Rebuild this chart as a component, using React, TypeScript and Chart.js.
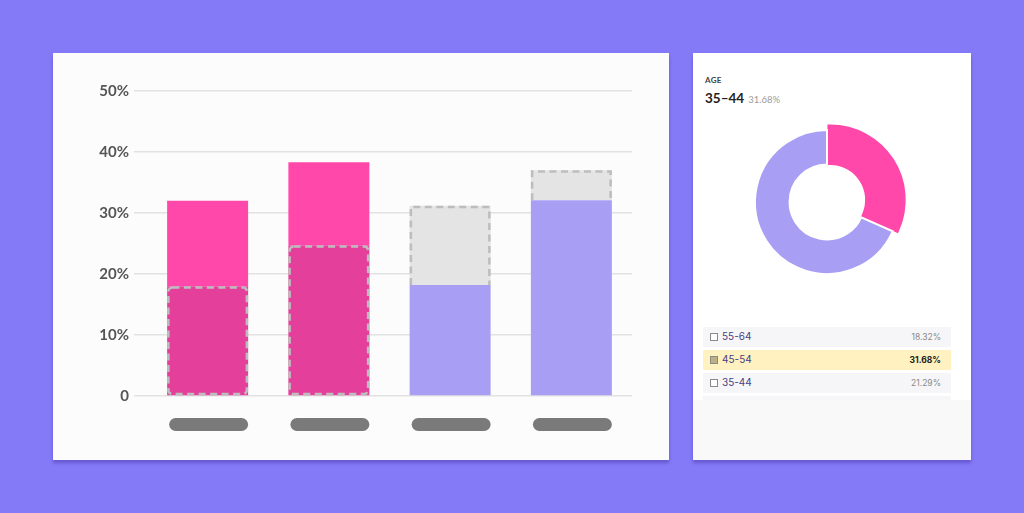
import React, { useEffect, useRef } from 'react';
import Chart from 'chart.js/auto';

// bar chart data (percent)
const categories = ['A', 'B', 'C', 'D'];
const currentValues = [32, 38.3, 18.2, 32.1];
const previousValues = [18, 24.7, 31.2, 37];
const yTickValues = [0, 10, 20, 30, 40, 50];

// donut + table data
const donutLabels = ['45-54', 'Other'];
const donutValues = [31.68, 68.32];
const ageLabels = ['55-64', '45-54', '35-44'];
const agePercents = ['18.32%', '31.68%', '21.29%'];
const selectedRow = 1;

const PINK = '#FF48A9';
const PINK_DARK = '#E4409B';
const PURPLE = '#A89FF4';
const GRAY_FILL = '#E4E4E4';
const DASH = '#BDBDBD';

const pillPlugin = {
  id: 'pills',
  afterDraw(chart: any) {
    const { ctx, chartArea, scales } = chart;
    ctx.save();
    ctx.fillStyle = '#7A7A7A';
    categories.forEach((_, i) => {
      const cx = scales.x.getPixelForValue(i);
      const w = 79;
      const h = 13;
      ctx.beginPath();
      ctx.roundRect(cx - w / 2 + 1, chartArea.bottom + 22, w, h, h / 2);
      ctx.fill();
    });
    ctx.restore();
  },
};

const dashedPlugin = {
  id: 'dashedBoxes',
  afterDatasetsDraw(chart: any) {
    const { ctx } = chart;
    const meta = chart.getDatasetMeta(1);
    ctx.save();
    ctx.strokeStyle = DASH;
    ctx.lineWidth = 2.5;
    ctx.setLineDash([7, 4.5]);
    meta.data.forEach((bar: any, i: number) => {
      const { x, y, base, width } = bar.getProps(['x', 'y', 'base', 'width'], true);
      const lw = 2.5;
      const l = x - width / 2 + lw / 2;
      const r = x + width / 2 - lw / 2;
      const t = Math.min(y, base) + lw / 2;
      const b = Math.max(y, base) - lw / 2;
      ctx.beginPath();
      if (currentValues[i] > previousValues[i]) {
        ctx.roundRect(l, t, r - l, b - t, 4);
      } else {
        ctx.moveTo(l, b + lw / 2);
        ctx.lineTo(l, t);
        ctx.lineTo(r, t);
        ctx.lineTo(r, b + lw / 2);
      }
      ctx.stroke();
    });
    ctx.restore();
  },
};

const BarPanel: React.FC = () => {
  const canvasRef = useRef<HTMLCanvasElement>(null);

  useEffect(() => {
    if (!canvasRef.current) return;
    const up = categories.map((_, i) => currentValues[i] > previousValues[i]);

    const chart = new Chart(canvasRef.current, {
      type: 'bar',
      data: {
        labels: categories,
        datasets: [
          {
            label: 'Current',
            data: categories.map((_, i) => (up[i] ? [previousValues[i], currentValues[i]] : [0, currentValues[i]])) as any,
            backgroundColor: up.map(u => (u ? PINK : PURPLE)),
            borderWidth: 0,
            grouped: false,
            barPercentage: 0.668,
            categoryPercentage: 1,
          },
          {
            label: 'Previous',
            data: categories.map((_, i) => (up[i] ? [0, previousValues[i]] : [currentValues[i], previousValues[i]])) as any,
            backgroundColor: up.map(u => (u ? PINK_DARK : GRAY_FILL)),
            borderWidth: 0,
            grouped: false,
            barPercentage: 0.668,
            categoryPercentage: 1,
          },
        ],
      },
      options: {
        animation: false,
        responsive: true,
        maintainAspectRatio: false,
        events: [],
        layout: { padding: { top: 38, right: 37, bottom: 64, left: 0 } },
        plugins: { legend: { display: false }, tooltip: { enabled: false } },
        scales: {
          x: { display: false },
          y: {
            min: 0,
            max: 50,
            afterFit: (scale: any) => {
              scale.width = 94;
            },
            afterBuildTicks: (scale: any) => {
              scale.ticks = yTickValues.map(v => ({ value: v }));
            },
            border: { display: false },
            grid: { color: '#E2E2E2', lineWidth: 1.5, tickLength: 13, drawTicks: true },
            ticks: {
              padding: 5,
              color: '#555555',
              font: { family: 'Lato', weight: 'bold', size: 15 },
              callback: (v: any) => (v === 0 ? '0' : `${v}%`),
            },
          },
        },
      },
      plugins: [pillPlugin, dashedPlugin],
    });

    return () => chart.destroy();
  }, []);

  return (
    <div style={{ position: 'absolute', left: 53, top: 53, width: 616, height: 407, background: '#FCFCFC', boxShadow: '0 3px 3px rgba(50,30,140,0.35)' }}>
      <canvas ref={canvasRef} />
    </div>
  );
};

const DonutPanel: React.FC = () => {
  const canvasRef = useRef<HTMLCanvasElement>(null);

  useEffect(() => {
    if (!canvasRef.current) return;
    const chart = new Chart(canvasRef.current, {
      type: 'doughnut',
      data: {
        labels: donutLabels,
        datasets: [
          {
            data: donutValues,
            backgroundColor: [PINK, PURPLE],
            borderColor: [PINK, '#FFFFFF'],
            borderWidth: [6, 2],
            borderJoinStyle: 'miter',
            offset: [16, 0],
          } as any,
        ],
      },
      options: {
        animation: false,
        responsive: true,
        maintainAspectRatio: false,
        events: [],
        radius: 72,
        cutout: '52%',
        plugins: { legend: { display: false }, tooltip: { enabled: false } },
      } as any,
    });
    return () => chart.destroy();
  }, []);

  return (
    <div style={{ position: 'absolute', left: 693, top: 53, width: 278, height: 407, background: '#F9F9F9', boxShadow: '0 3px 3px rgba(50,30,140,0.35)' }}>
      <div style={{ position: 'absolute', left: 0, top: 0, width: 278, height: 347, background: '#FFFFFF' }} />
      <div style={{ position: 'absolute', left: 12, top: 22, fontFamily: 'Lato', fontWeight: 700, fontSize: 8, letterSpacing: 0.3, color: '#444444', lineHeight: '10px' }}>
        AGE
      </div>
      <div style={{ position: 'absolute', left: 12, top: 35, fontFamily: 'Lato', lineHeight: '18px', whiteSpace: 'nowrap' }}>
        <span style={{ fontWeight: 700, fontSize: 13.5, color: '#222222' }}>35–44</span>
        <span style={{ fontSize: 9.5, color: '#9B9B9B', marginLeft: 4 }}>31.68%</span>
      </div>
      <div style={{ position: 'absolute', left: 34, top: 49, width: 200, height: 200 }}>
        <canvas ref={canvasRef} />
      </div>
      {ageLabels.map((label, i) => {
        const sel = i === selectedRow;
        return (
          <div
            key={label}
            style={{
              position: 'absolute',
              left: 10,
              top: 274 + i * 23,
              width: 248,
              height: 20,
              background: sel ? '#FFF1C0' : '#F6F6F8',
              fontFamily: 'Inter',
            }}
          >
            <div
              style={{
                position: 'absolute',
                left: 7,
                top: 6,
                width: 6,
                height: 6,
                border: '1px solid #8A8A8A',
                background: sel ? '#BFAE80' : '#FFFFFF',
              }}
            />
            <div style={{ position: 'absolute', left: 19, top: 3, fontSize: 10, lineHeight: '13px', color: '#4B4080' }}>{label}</div>
            <div
              style={{
                position: 'absolute',
                right: 10,
                top: 5,
                fontSize: 8.5,
                lineHeight: '11px',
                color: sel ? '#222222' : '#8A8A8A',
                fontWeight: sel ? 700 : 400,
              }}
            >
              {agePercents[i]}
            </div>
          </div>
        );
      })}
      <div style={{ position: 'absolute', left: 10, top: 343, width: 248, height: 4, background: '#F6F6F8' }} />
    </div>
  );
};

export default function App() {
  return (
    <div style={{ position: 'fixed', left: 0, top: 0, width: 1024, height: 513, background: '#8479F6', overflow: 'hidden' }}>
      <BarPanel />
      <DonutPanel />
    </div>
  );
}
